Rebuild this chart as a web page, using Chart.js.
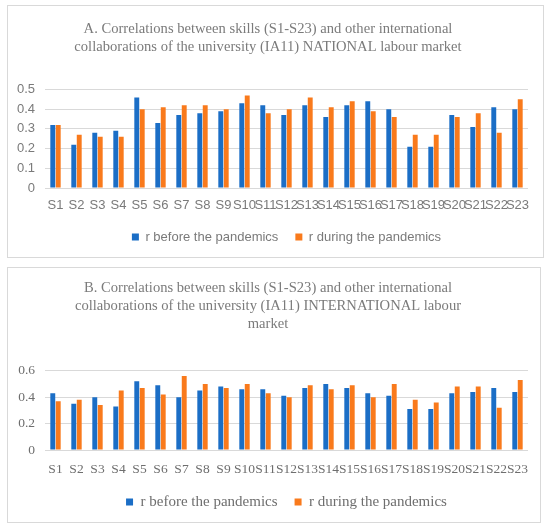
<!DOCTYPE html>
<html>
<head>
<meta charset="utf-8">
<script src="https://cdn.jsdelivr.net/npm/chart.js@4.4.1/dist/chart.umd.min.js"></script>
<style>
  body { margin: 0; background: #fff; width: 550px; height: 530px; position: relative; overflow: hidden; }
  .panel { position: absolute; box-sizing: border-box; border: 1px solid #d9d9d9; background: #fff; }
  #panelA { left: 7px; top: 5px; width: 537px; height: 253px; }
  #panelB { left: 7px; top: 267px; width: 534px; height: 256px; }
  .panel canvas { display: block; }
</style>
</head>
<body>
<div class="panel" id="panelA"><canvas id="chartA"></canvas></div>
<div class="panel" id="panelB"><canvas id="chartB"></canvas></div>
<script>
// skills S1..S23
var skills = ['S1','S2','S3','S4','S5','S6','S7','S8','S9','S10','S11','S12',
              'S13','S14','S15','S16','S17','S18','S19','S20','S21','S22','S23'];
var seriesNames = ['r before the pandemics', 'r during the pandemics'];

// A. national labour market
var nationalBefore = [0.32,0.22,0.28,0.29,0.46,0.33,0.37,0.38,0.39,0.43,0.42,0.37,
                      0.42,0.36,0.42,0.44,0.40,0.21,0.21,0.37,0.31,0.41,0.40];
var nationalDuring = [0.32,0.27,0.26,0.26,0.40,0.41,0.42,0.42,0.40,0.47,0.38,0.40,
                      0.46,0.41,0.44,0.39,0.36,0.27,0.27,0.36,0.38,0.28,0.45];

// B. international labour market
var internationalBefore = [0.43,0.35,0.40,0.33,0.52,0.49,0.40,0.45,0.48,0.46,0.46,0.41,
                           0.47,0.50,0.47,0.43,0.41,0.31,0.31,0.43,0.44,0.47,0.44];
var internationalDuring = [0.37,0.38,0.34,0.45,0.47,0.42,0.56,0.50,0.47,0.50,0.43,0.40,
                           0.49,0.46,0.49,0.40,0.50,0.38,0.36,0.48,0.48,0.32,0.53];

var titleA = ['A. Correlations between skills (S1-S23) and other international',
              'collaborations of the university (IA11) NATIONAL labour market'];
var titleB = ['B. Correlations between skills (S1-S23) and other international',
              'collaborations of the university (IA11) INTERNATIONAL labour',
              'market'];

var blue = '#1b6ec6';
var orange = '#f97a1c';
var gridGray = '#d9d9d9';

function tickLabel(v) {
  return v === 0 ? '0' : v.toFixed(1);
}

function makeChart(id, title, before, during, o) {
  var ctx = document.getElementById(id).getContext('2d');
  return new Chart(ctx, {
    type: 'bar',
    data: {
      labels: skills,
      datasets: [
        { label: seriesNames[0], data: before, backgroundColor: blue,
          categoryPercentage: 0.52, barPercentage: 0.9 },
        { label: seriesNames[1], data: during, backgroundColor: orange,
          categoryPercentage: 0.52, barPercentage: 0.9 }
      ]
    },
    options: {
      responsive: true,
      maintainAspectRatio: false,
      animation: false,
      layout: { padding: { top: 0, left: 0, right: o.padRight, bottom: o.padBottom } },
      plugins: {
        title: {
          display: true,
          text: title,
          color: '#7b7b7b',
          font: { family: 'Liberation Serif', size: 14.6, weight: 'normal', lineHeight: 1.25 },
          padding: { top: o.titleTop, bottom: o.titleBottom }
        },
        legend: {
          position: 'bottom',
          fullSize: false,
          labels: {
            boxWidth: 7,
            boxHeight: 7,
            padding: 17,
            color: o.textColor,
            font: o.legendFont
          }
        },
        tooltip: { enabled: false }
      },
      scales: {
        x: {
          grid: { display: false, drawTicks: false, tickLength: 0 },
          border: { display: false },
          ticks: { autoSkip: false, maxRotation: 0, minRotation: 0, padding: o.xPad,
                   color: o.textColor, font: o.tickFont },
          afterFit: function (scale) { scale.height = o.xHeight; }
        },
        y: {
          min: 0,
          max: o.yMax,
          grid: { color: gridGray, drawTicks: false, tickLength: 0 },
          border: { display: false },
          ticks: { stepSize: o.yStep, autoSkip: false, padding: 10, color: o.textColor,
                   font: o.tickFont, callback: tickLabel },
          afterFit: function (scale) { scale.width = 37; }
        }
      }
    }
  });
}

makeChart('chartA', titleA, nationalBefore, nationalDuring, {
  yMax: 0.5, yStep: 0.1,
  titleTop: 14, titleBottom: 33,
  padRight: 15, padBottom: 3.5,
  xPad: 9.9, xHeight: 25.5,
  textColor: '#7a7a7a',
  tickFont: { family: 'Liberation Sans', size: 13, lineHeight: 1.2 },
  legendFont: { family: 'Liberation Sans', size: 13 }
});

makeChart('chartB', titleB, internationalBefore, internationalDuring, {
  yMax: 0.6, yStep: 0.2,
  titleTop: 11, titleBottom: 37,
  padRight: 12, padBottom: 2.5,
  xPad: 11.3, xHeight: 27.5,
  textColor: '#6e6e6e',
  tickFont: { family: 'Liberation Serif', size: 13.5, lineHeight: 1.2 },
  legendFont: { family: 'Liberation Serif', size: 15 }
});
</script>
</body>
</html>
